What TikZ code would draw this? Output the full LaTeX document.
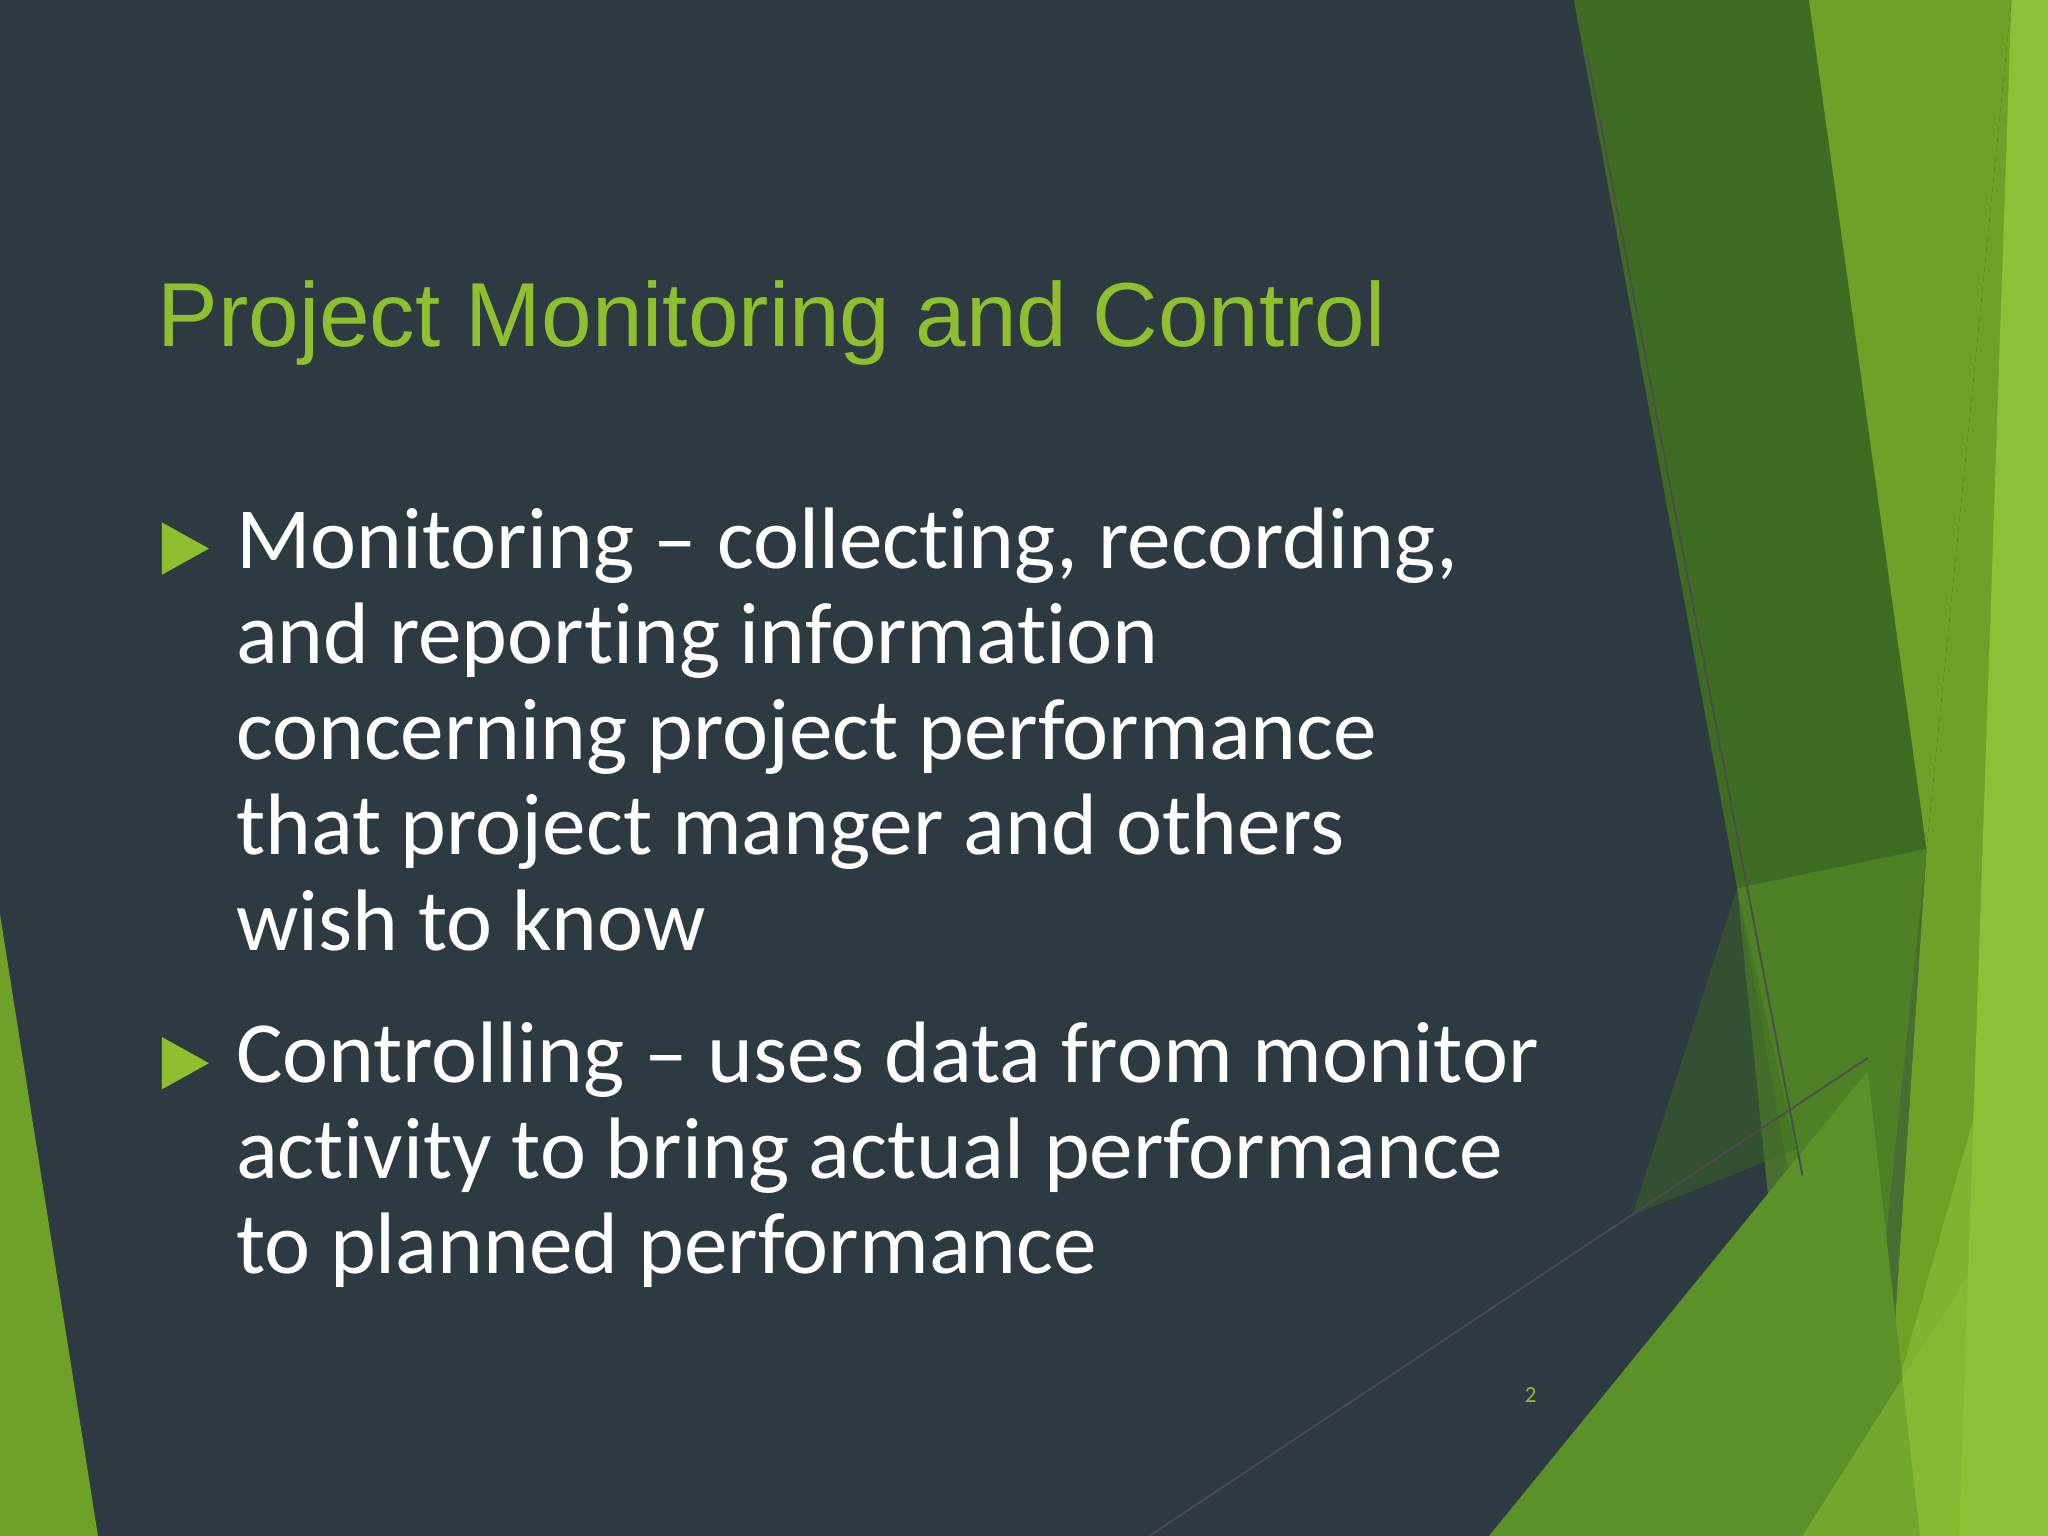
\documentclass[tikz,border=0pt]{standalone}
\usepackage{fontspec}
\setmainfont{Carlito}[Ligatures={NoCommon}]
\newfontfamily\titlefont{Liberation Sans}
\definecolor{bg}{HTML}{2D3A42}
\definecolor{tgreen}{HTML}{8DBF2E}
\definecolor{g1}{HTML}{3E6B22}
\definecolor{g2}{HTML}{6FA128}
\definecolor{g3}{HTML}{8CC035}
\definecolor{g4}{HTML}{5A9128}
\begin{document}
\begin{tikzpicture}[x=0.01cm,y=-0.01cm,
  body/.style={anchor=north west,align=left,text=white,font=\fontsize{19}{20.8}\selectfont,inner sep=0pt},
  bul/.style={fill=tgreen,draw=none}]
\fill[bg] (0,0) rectangle (1568,1176);
\useasboundingbox (0,0) rectangle (1568,1176);
% right greens
\fill[g1] (1205,0) -- (1390,0) -- (1475,650) -- (1420,1176) -- (1330,680) -- cycle;
\fill[g4,opacity=0.6] (1330,680) -- (1475,650) -- (1440,1176) -- (1380,1176) -- cycle;
\fill[g2] (1385,0) -- (1540,0) -- (1475,650) -- cycle;
\fill[g2] (1475,650) -- (1540,0) -- (1520,1176) -- (1440,1176) -- cycle;
\fill[g3] (1540,0) -- (1568,0) -- (1568,1176) -- (1500,1176) -- cycle;
\fill[g3,opacity=0.6] (1510,860) -- (1568,760) -- (1568,1176) -- (1420,1176) -- cycle;
\fill[g4] (1140,1176) -- (1430,820) -- (1470,1176) -- cycle;
\fill[g3,opacity=0.5] (1380,1176) -- (1568,880) -- (1568,1176) -- cycle;
\fill[g1,opacity=0.45] (1250,930) -- (1330,680) -- (1375,880) -- cycle;
\draw[black!70,line width=0.4pt] (1215,40) -- (1380,900) (880,1176) -- (1430,810);
% left green
\fill[g2] (0,700) -- (75,1176) -- (0,1176) -- cycle;
% text
\node[anchor=base west,inner sep=0pt,text=tgreen,font=\titlefont\fontsize{19.8}{24}\selectfont] (title) at (120,265) {Project Monitoring and Control};
\node[body] (b1) at (180,388) {Monitoring -- collecting, recording,\\and reporting information\\concerning project performance\\that project manger and others\\wish to know};
\node[body] (b2) at (180,782) {Controlling -- uses data from monitor\\activity to bring actual performance\\to planned performance};
\fill[bul] (124,400) -- (160,420) -- (124,440) -- cycle;
\fill[bul] (124,794) -- (160,814) -- (124,834) -- cycle;
\node[text=tgreen,font=\fontsize{5}{6}\selectfont] (pg) at (1172,1068) {2};
\end{tikzpicture}
\end{document}
